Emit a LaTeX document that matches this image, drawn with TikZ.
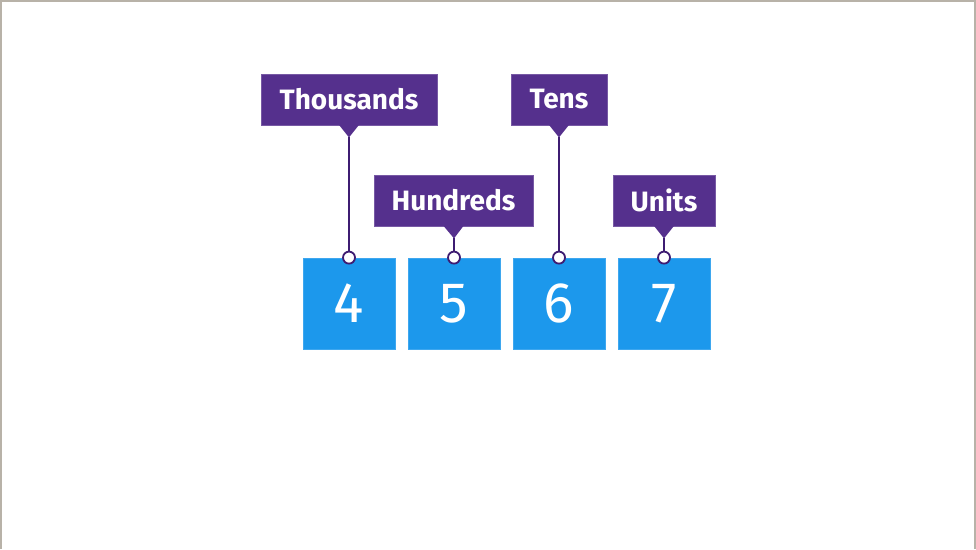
\documentclass[tikz,border=0pt]{standalone}
\usepackage{fontspec}
\usetikzlibrary{calc}
\setmainfont{Fira Sans}
\newfontfamily\labelfont{Fira Sans Bold}
\newfontfamily\digitfont{Fira Sans}
\definecolor{bpurple}{HTML}{55308D}
\definecolor{lpurple}{HTML}{3E1C72}
\definecolor{bblue}{HTML}{1C98EC}
\definecolor{frame}{HTML}{B8B2A8}
\tikzset{
  digitbox/.style={fill=bblue, draw=bblue!85!white, line width=0.8pt, minimum width=92pt, minimum height=91pt, inner sep=0pt, text=white, font=\digitfont\fontsize{57}{57}\selectfont},
  tagbox/.style={fill=bpurple, draw=bpurple!80!white, line width=0.8pt, minimum height=51pt, inner sep=0pt, text=white, font=\labelfont\fontsize{28}{28}\selectfont},
  stem/.style={draw=lpurple, line width=2pt},
  pin/.style={circle, draw=lpurple, fill=white, line width=1.8pt, minimum size=12pt, inner sep=0pt},
}
\begin{document}
\begin{tikzpicture}[x=1pt,y=-1pt]
\useasboundingbox (0,0) rectangle (976,549);
\fill[white] (0,0) rectangle (976,549);
\draw[frame, line width=2pt] (1,549) -- (1,1) -- (975,1) -- (975,549);
% digit boxes
\node[digitbox] (d4) at (349,303.5) {4};
\node[digitbox] (d5) at (454,303.5) {5};
\node[digitbox] (d6) at (559,303.5) {6};
\node[digitbox] (d7) at (664,303.5) {7};
% labels
\node[tagbox, minimum width=176pt] (lth) at (349,99.5) {Thousands};
\node[tagbox, minimum width=159pt] (lhu) at (453.5,200.5) {Hundreds};
\node[tagbox, minimum width=96pt] (lte) at (559,99.5) {Tens};
\node[tagbox, minimum width=102pt] (lun) at (664,200.5) {Units};
% pointers
\foreach \l/\d in {lth/d4, lhu/d5, lte/d6, lun/d7}{
  \coordinate (t\l) at ($(\d.north |- \l.south)+(0,12)$);
  \fill[bpurple] ($(\l.south)+(-10,-0.5)$) -- ($(\l.south)+(10,-0.5)$) -- (t\l) -- cycle;
  \draw[stem] (t\l) -- (\d.north);
  \node[pin] (p\d) at (\d.north) {};
}
\end{tikzpicture}
\end{document}
